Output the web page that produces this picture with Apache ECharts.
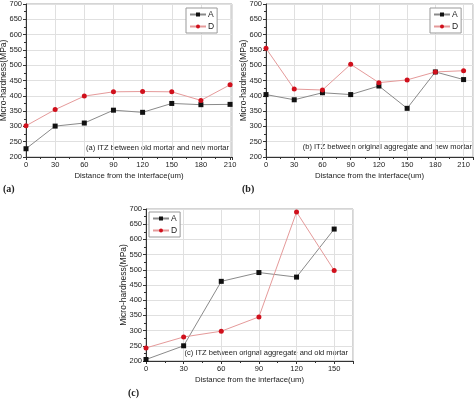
<!DOCTYPE html>
<html>
<head>
<meta charset="utf-8">
<script src="https://cdn.jsdelivr.net/npm/echarts@6/dist/echarts.min.js"></script>
<style>
  html, body { margin: 0; padding: 0; background: #fff; }
  #main { width: 474px; height: 399px; }
</style>
</head>
<body>
<div id="main"></div>
<script>
// distance from the interface (um)
var distAB = [0, 30, 60, 90, 120, 150, 180, 210];
var distC = [0, 30, 60, 90, 120, 150];

// (a) ITZ between old mortar and new mortar
var aA = [227, 301, 311, 353, 346, 375, 371, 372];
var aD = [302, 355, 399, 413, 414, 413, 385, 436];
// (b) ITZ between original aggregate and new mortar
var bA = [404, 387, 410, 404, 432, 359, 478, 453];
var bD = [555, 422, 419, 503, 443, 452, 478, 482];
// (c) ITZ between orignal aggregate and old mortar
var cA = [205, 250, 462, 491, 476, 634];
var cD = [243, 279, 298, 345, 690, 498];

var panelNotes = ['(a) ITZ between old mortar and new mortar',
                  '(b) ITZ between original aggregate and new mortar',
                  '(c) ITZ between orignal aggregate and old mortar'];

function pairs(xs, ys){
    var out = [];
    for(var i=0;i<xs.length;i++){
        out.push([xs[i], ys[i]]);
    }
    return out;
}

var FONT = 'Liberation Sans';

function xAx(idx, max){
    return {
        type: 'value', gridIndex: idx, min: 0, max: max, interval: 30,
        name: 'Distance from the interface(um)', nameLocation: 'middle', nameGap: 15,
        nameMoveOverlap: false,
        nameTextStyle: {fontFamily: FONT, fontSize: 7.8, color: '#222'},
        axisLine: {show: true, onZero: false, lineStyle: {color: '#333', width: 1}},
        axisTick: {show: true, length: 3, lineStyle: {color: '#333'}},
        minorTick: {show: true, splitNumber: 2, length: 2, lineStyle: {color: '#333'}},
        axisLabel: {fontFamily: FONT, fontSize: 7.5, color: '#222', margin: 4, showMaxLabel: false},
        splitLine: {show: true, lineStyle: {color: '#e0e0e0', width: 1}}
    };
}

function yAx(idx){
    return {
        type: 'value', gridIndex: idx, min: 200, max: 700, interval: 50,
        name: 'Micro-hardness(MPa)', nameLocation: 'middle', nameGap: 18, nameRotate: 90,
        nameMoveOverlap: false,
        nameTextStyle: {fontFamily: FONT, fontSize: 8.5, color: '#222'},
        axisLine: {show: true, lineStyle: {color: '#333', width: 1}},
        axisTick: {show: true, length: 3, lineStyle: {color: '#333'}},
        minorTick: {show: true, splitNumber: 2, length: 2, lineStyle: {color: '#333'}},
        axisLabel: {fontFamily: FONT, fontSize: 7.5, color: '#222', margin: 4},
        splitLine: {show: true, lineStyle: {color: '#e0e0e0', width: 1}}
    };
}

function lineA(idx, data){
    return {
        name: 'A', type: 'line', xAxisIndex: idx, yAxisIndex: idx, data: data,
        symbol: 'rect', symbolSize: 5,
        itemStyle: {color: '#111'},
        lineStyle: {color: '#8a8a8a', width: 1}
    };
}

function lineD(idx, data){
    return {
        name: 'D', type: 'line', xAxisIndex: idx, yAxisIndex: idx, data: data,
        symbol: 'circle', symbolSize: 5,
        itemStyle: {color: '#d0101c'},
        lineStyle: {color: '#e59a9a', width: 1}
    };
}

function legendAt(left, top, idx){
    return {
        data: ['A', 'D'], orient: 'vertical', left: left, top: top,
        itemWidth: 16, itemHeight: 5, itemGap: 3,
        padding: [2, 3, 2, 3],
        borderColor: '#999', borderWidth: 1, backgroundColor: '#fff',
        textStyle: {fontFamily: FONT, fontSize: 8.5, color: '#222', padding: [0, 0, 0, -3]},
        seriesIndex: [idx * 2, idx * 2 + 1]
    };
}

function gridAt(left, top, width, height){
    return {left: left, top: top, width: width, height: height, outerBoundsMode: 'none',
            show: true, borderColor: '#aaa', borderWidth: 1};
}

var myChart = echarts.init(document.getElementById('main'), null, {renderer: 'canvas'});
var option = {
    backgroundColor: '#fff',
    animation: false,
    grid: [
        gridAt(26, 4, 206, 153),
        gridAt(266, 4, 207, 153),
        gridAt(146, 209, 207, 152)
    ],
    xAxis: [xAx(0, 212), xAx(1, 220), xAx(2, 165)],
    yAxis: [yAx(0), yAx(1), yAx(2)],
    legend: [legendAt(186, 8, 0), legendAt(430, 8, 1), legendAt(149, 212, 2)],
    series: [
        lineA(0, pairs(distAB, aA)), lineD(0, pairs(distAB, aD)),
        lineA(1, pairs(distAB, bA)), lineD(1, pairs(distAB, bD)),
        lineA(2, pairs(distC, cA)), lineD(2, pairs(distC, cD))
    ],
    graphic: [
        {type: 'text', right: 474 - 229, top: 144, style: {text: panelNotes[0], fontFamily: FONT, fontSize: 7.5, fill: '#222'}},
        {type: 'text', right: 474 - 472, top: 143, style: {text: panelNotes[1], fontFamily: FONT, fontSize: 7.5, fill: '#222'}},
        {type: 'text', right: 474 - 348, top: 349, style: {text: panelNotes[2], fontFamily: FONT, fontSize: 7.5, fill: '#222'}},
        {type: 'text', left: 3, top: 184, style: {text: '(a)', fontFamily: 'Liberation Serif', fontWeight: 'bold', fontSize: 10, fill: '#222'}},
        {type: 'text', left: 242, top: 184, style: {text: '(b)', fontFamily: 'Liberation Serif', fontWeight: 'bold', fontSize: 10, fill: '#222'}},
        {type: 'text', left: 128, top: 388, style: {text: '(c)', fontFamily: 'Liberation Serif', fontWeight: 'bold', fontSize: 10, fill: '#222'}}
    ]
};
myChart.setOption(option);
</script>
</body>
</html>
